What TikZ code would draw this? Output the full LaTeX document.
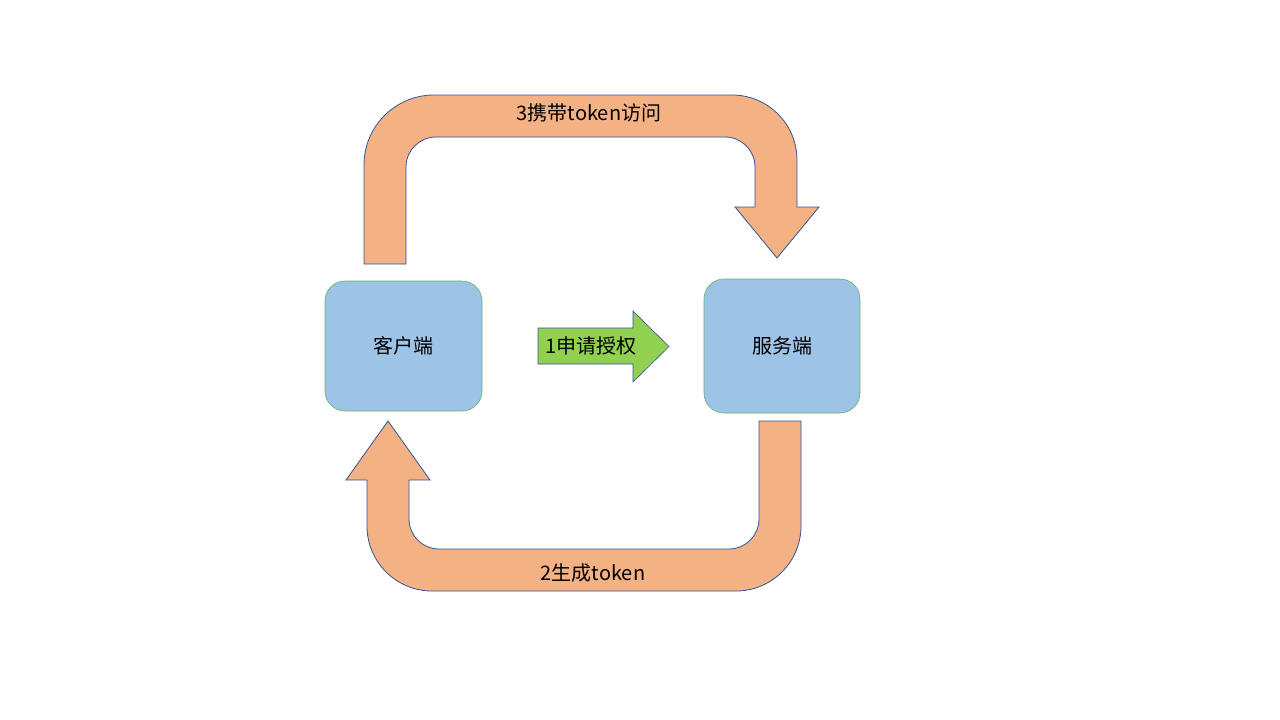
\documentclass[tikz,border=0pt]{standalone}
\usepackage{fontspec}
\setmainfont{Noto Sans CJK SC}
\begin{document}
\begin{tikzpicture}[x=1pt,y=-1pt,
  band/.style={fill=bandc, draw=linec, line width=0.8pt},
  boxs/.style={fill=boxc, draw=green!50!black!60, line width=0.6pt, rounded corners=20pt},
  lbl/.style={font=\fontsize{20}{24}\selectfont}]
\definecolor{bandc}{HTML}{F4B183}
\definecolor{linec}{HTML}{2F5597}
\definecolor{boxc}{HTML}{9DC3E6}
\definecolor{grn}{HTML}{92D050}
\useasboundingbox (0,0) rectangle (1280,720);
% top arrow
\draw[band] (364,264) -- (364,165) arc[start angle=180,end angle=270,radius=70] -- (732,95)
  arc[start angle=270,end angle=360,radius=65] -- (797,207) -- (819,207) -- (777,258) -- (735,207) -- (755,207)
  -- (755,167) arc[start angle=0,end angle=-90,radius=30] -- (436,137)
  arc[start angle=270,end angle=180,radius=30] -- (406,264) -- cycle;
% bottom arrow
\draw[band] (801,421) -- (801,526) arc[start angle=0,end angle=90,radius=65] -- (432,591)
  arc[start angle=90,end angle=180,radius=65] -- (367,480) -- (346,480) -- (388,421) -- (430,480) -- (409,480)
  -- (409,519) arc[start angle=180,end angle=90,radius=30] -- (729,549)
  arc[start angle=90,end angle=0,radius=30] -- (759,421) -- cycle;
% boxes
\node[boxs, minimum width=157pt, minimum height=130pt, lbl] (c) at (403.5,346) {客户端};
\node[boxs, minimum width=156pt, minimum height=134pt, lbl] (s) at (782,346) {服务端};
% green arrow
\draw[fill=grn, draw=linec, line width=0.6pt] (538,328) -- (633,328) -- (633,311) -- (669,346.5) -- (633,382) -- (633,364) -- (538,364) -- cycle;
\node[lbl] (g) at (591,346) {1申请授权};
\node[lbl] (t) at (589,113) {3携带token访问};
\node[lbl] (b) at (593,573) {2生成token};
\end{tikzpicture}
\end{document}
